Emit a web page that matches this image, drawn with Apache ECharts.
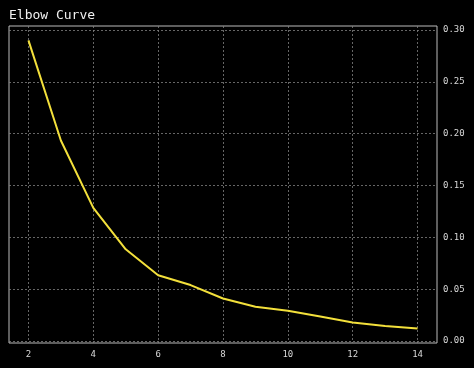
<!DOCTYPE html>
<html><head><meta charset="utf-8">
<script src="https://cdn.jsdelivr.net/npm/echarts@6/dist/echarts.min.js"></script>
<style>html,body{margin:0;padding:0;background:#000;}#c{width:474px;height:368px;}</style>
</head><body><div id="c"></div>
<script>
const titleText = "Elbow Curve";
const kValues = [2,3,4,5,6,7,8,9,10,11,12,13,14];
const inertia = [0.290,0.1935,0.1285,0.0885,0.0635,0.054,0.041,0.033,0.0293,0.0236,0.0179,0.0146,0.0121];
const xTicks = [2,4,6,8,10,12,14];
const yTicks = [0,0.05,0.10,0.15,0.20,0.25,0.30];

const font = "'DejaVu Sans Mono', monospace";
const chart = echarts.init(document.getElementById('c'), null, {renderer:'canvas'});
chart.setOption({
  backgroundColor:'#000',
  animation:false,
  title:{text:titleText,left:4,top:4,textStyle:{color:'#f0f0f0',fontFamily:font,fontSize:13,fontWeight:'normal'}},
  grid:{left:9,right:37,top:26,bottom:25,show:true,borderColor:'#bbbbbb',borderWidth:1,backgroundColor:'transparent'},
  xAxis:{type:'value',min:1.4,max:14.6,
    axisLine:{show:false},
    axisTick:{show:false,customValues:xTicks},
    axisLabel:{customValues:xTicks,color:'#d8d8d8',fontFamily:font,fontSize:9,margin:7},
    splitLine:{show:true,lineStyle:{color:'#808080',type:[2,2],width:0.8}}},
  yAxis:{type:'value',position:'right',min:-0.0019,max:0.3039,
    axisLine:{show:false},
    axisTick:{show:false,customValues:yTicks},
    axisLabel:{customValues:yTicks,color:'#d8d8d8',fontFamily:font,fontSize:9,margin:6,formatter:v=>v.toFixed(2)},
    splitLine:{show:true,lineStyle:{color:'#808080',type:[2,2],width:0.8}}},
  series:[{type:'line',data:kValues.map((k,i)=>[k,inertia[i]]),showSymbol:false,
    lineStyle:{color:'#f3e03b',width:2},itemStyle:{color:'#f3e03b'}}]
});
</script></body></html>
